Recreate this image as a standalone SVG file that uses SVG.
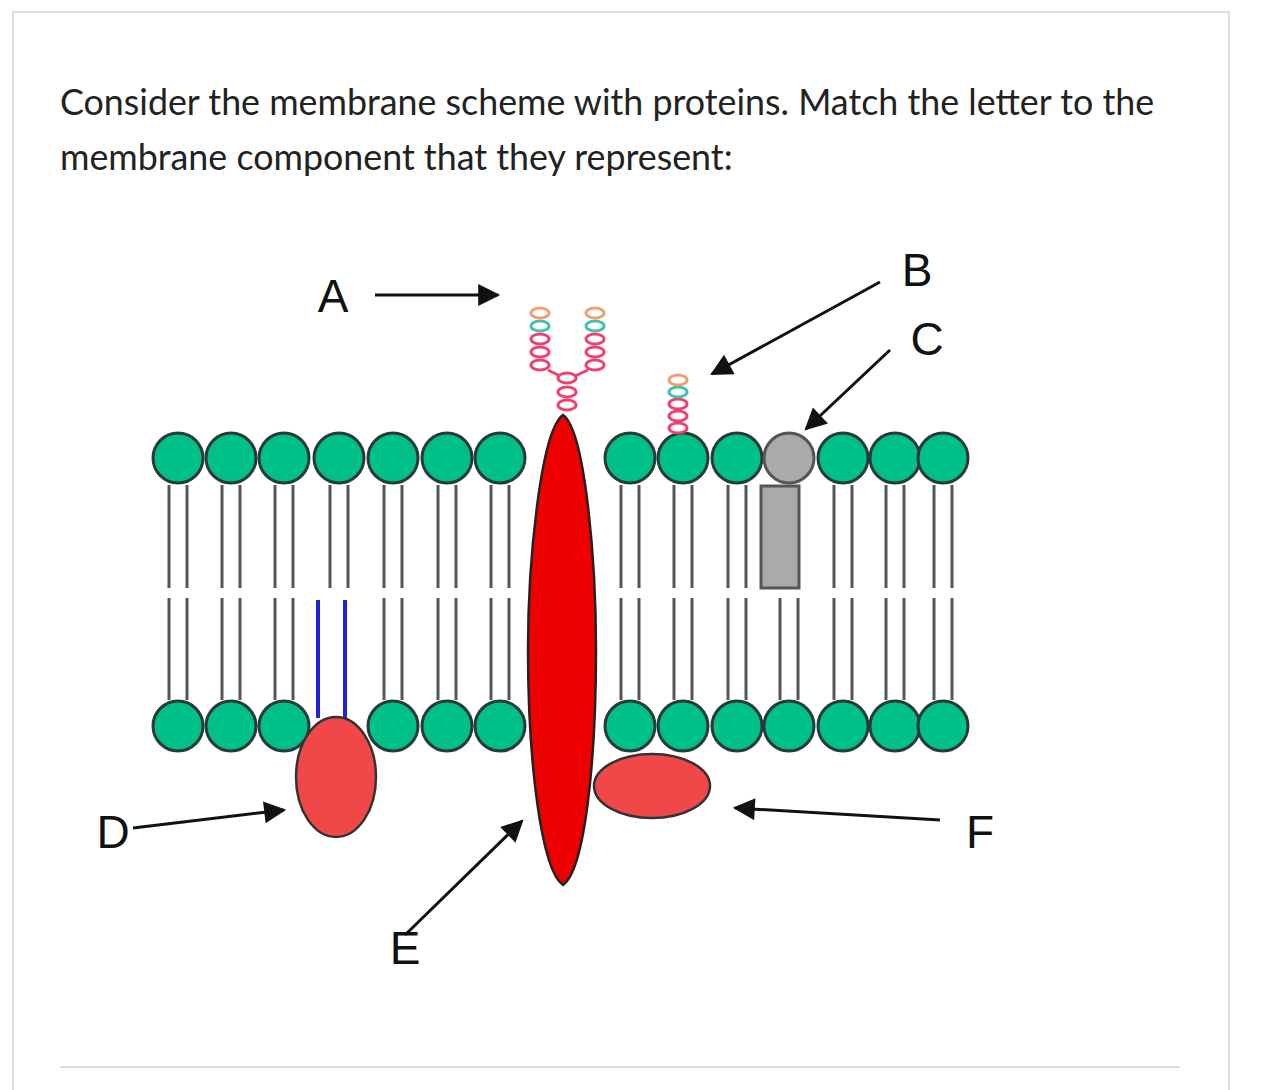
<svg xmlns="http://www.w3.org/2000/svg" width="1267" height="1090" viewBox="0 0 1267 1090">
<defs>
<style>
.head{fill:#00c08a;stroke:#2a3a3a;stroke-width:3}
.tail{stroke:#555;stroke-width:3}
.lbl{font-family:"Liberation Sans",Arial,sans-serif;font-size:46px;fill:#111}
.q{font-family:Lato,"Liberation Sans",sans-serif;font-size:35.8px;fill:#222}
.arr{stroke:#111;stroke-width:3;fill:none;marker-end:url(#ah)}
.s{fill:#fff;stroke-width:3}
</style>
<marker id="ah" viewBox="0 0 10 10" refX="9" refY="5" markerWidth="26" markerHeight="22" markerUnits="userSpaceOnUse" orient="auto">
<path d="M0,0 L10,5 L0,10 z" fill="#111"/>
</marker>
<g id="lip">
<line class="tail" x1="-9" y1="485" x2="-9" y2="588"/><line class="tail" x1="9" y1="485" x2="9" y2="588"/>
<line class="tail" x1="-9" y1="598" x2="-9" y2="700"/><line class="tail" x1="9" y1="598" x2="9" y2="700"/>
</g>
</defs>
<rect width="1267" height="1090" fill="#fff"/>
<path d="M13,1090 V12 H1229 V1090" fill="none" stroke="#ddd" stroke-width="2"/>
<line x1="60" y1="1067" x2="1180" y2="1067" stroke="#ddd" stroke-width="2"/>
<g id="question">
<text class="q" x="60" y="115">Consider the membrane scheme with proteins. Match the letter to the</text>
<text class="q" x="60" y="170">membrane component that they represent:</text>
</g>
<g id="bilayer">
<use href="#lip" x="178"/><use href="#lip" x="231"/><use href="#lip" x="284"/>
<line class="tail" x1="330" y1="485" x2="330" y2="588"/><line class="tail" x1="348" y1="485" x2="348" y2="588"/>
<line x1="318" y1="600" x2="318" y2="718" stroke="#2222dd" stroke-width="4"/><line x1="345" y1="600" x2="345" y2="718" stroke="#2222dd" stroke-width="4"/>
<use href="#lip" x="393"/><use href="#lip" x="447"/><use href="#lip" x="500"/>
<use href="#lip" x="630"/><use href="#lip" x="683"/><use href="#lip" x="737"/>
<line class="tail" x1="780" y1="598" x2="780" y2="700"/><line class="tail" x1="798" y1="598" x2="798" y2="700"/>
<use href="#lip" x="843"/><use href="#lip" x="895"/><use href="#lip" x="943"/>
<g class="head">
<circle cx="178" cy="458" r="25"/><circle cx="231" cy="458" r="25"/><circle cx="284" cy="458" r="25"/><circle cx="339" cy="458" r="25"/><circle cx="393" cy="458" r="25"/><circle cx="447" cy="458" r="25"/><circle cx="500" cy="458" r="25"/>
<circle cx="630" cy="458" r="25"/><circle cx="683" cy="458" r="25"/><circle cx="737" cy="458" r="25"/><circle cx="843" cy="458" r="25"/><circle cx="895" cy="458" r="25"/><circle cx="943" cy="458" r="25"/>
<circle cx="178" cy="726" r="25"/><circle cx="231" cy="726" r="25"/><circle cx="284" cy="726" r="25"/><circle cx="393" cy="726" r="25"/><circle cx="447" cy="726" r="25"/><circle cx="500" cy="726" r="25"/>
<circle cx="630" cy="726" r="25"/><circle cx="683" cy="726" r="25"/><circle cx="737" cy="726" r="25"/><circle cx="789" cy="726" r="25"/><circle cx="843" cy="726" r="25"/><circle cx="895" cy="726" r="25"/><circle cx="943" cy="726" r="25"/>
</g>
</g>
<g id="cholesterol">
<circle cx="789" cy="458" r="25" fill="#aaa" stroke="#555" stroke-width="3"/>
<rect x="761" y="486" width="38" height="102" fill="#aaa" stroke="#555" stroke-width="3"/>
</g>
<g id="proteinD"><ellipse cx="336" cy="777" rx="40" ry="60" fill="#f04848" stroke="#333" stroke-width="2.5"/></g>
<g id="proteinF"><ellipse cx="652" cy="786" rx="58" ry="32" fill="#f04848" stroke="#333" stroke-width="2.5"/></g>
<g id="proteinE"><path d="M563,415 C585,430 596,560 596,650 C596,760 585,870 563,885 C541,870 528,760 528,650 C528,560 541,430 563,415 Z" fill="#ee0000" stroke="#222" stroke-width="2.5"/></g>
<g id="glyco">
<g class="s" stroke="#f04070">
<ellipse cx="540" cy="365" rx="9" ry="5"/><ellipse cx="540" cy="352" rx="9" ry="5"/><ellipse cx="540" cy="339" rx="9" ry="5"/>
<ellipse cx="595" cy="365" rx="9" ry="5"/><ellipse cx="595" cy="352" rx="9" ry="5"/><ellipse cx="595" cy="339" rx="9" ry="5"/>
<ellipse cx="567" cy="378" rx="9" ry="5"/><ellipse cx="567" cy="392" rx="9" ry="5"/><ellipse cx="567" cy="405" rx="9" ry="5"/>
<ellipse cx="678" cy="428" rx="9" ry="5"/><ellipse cx="678" cy="416" rx="9" ry="5"/><ellipse cx="678" cy="404" rx="9" ry="5"/>
<line x1="548" y1="370" x2="560" y2="376"/><line x1="588" y1="370" x2="575" y2="376"/>
</g>
<g class="s" stroke="#40c0b0"><ellipse cx="540" cy="326" rx="9" ry="5"/><ellipse cx="595" cy="326" rx="9" ry="5"/><ellipse cx="678" cy="392" rx="9" ry="5"/></g>
<g class="s" stroke="#f0a070"><ellipse cx="540" cy="313" rx="9" ry="5"/><ellipse cx="595" cy="313" rx="9" ry="5"/><ellipse cx="678" cy="380" rx="9" ry="5"/></g>
</g>
<g id="connectors">
<line class="arr" x1="375" y1="295" x2="498" y2="295"/>
<line class="arr" x1="880" y1="282" x2="712" y2="374"/>
<line class="arr" x1="890" y1="350" x2="806" y2="429"/>
<line class="arr" x1="133" y1="828" x2="284" y2="810"/>
<line class="arr" x1="405" y1="935" x2="522" y2="821"/>
<line class="arr" x1="940" y1="820" x2="735" y2="808"/>
</g>
<g id="labels">
<text class="lbl" x="333" y="312" text-anchor="middle">A</text>
<text class="lbl" x="917" y="286" text-anchor="middle">B</text>
<text class="lbl" x="927" y="355" text-anchor="middle">C</text>
<text class="lbl" x="113" y="848" text-anchor="middle">D</text>
<text class="lbl" x="405" y="964" text-anchor="middle">E</text>
<text class="lbl" x="980" y="848" text-anchor="middle">F</text>
</g>
</svg>
